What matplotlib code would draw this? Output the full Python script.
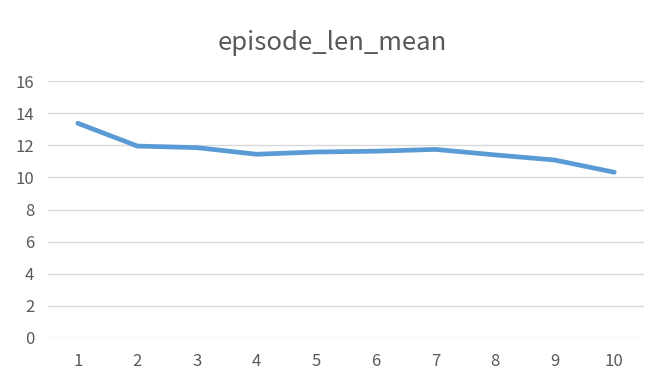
import numpy as np
import matplotlib.pyplot as plt

plt.rcParams['font.family'] = ['Noto Sans CJK SC', 'DejaVu Sans']

# Data
episodes = [1, 2, 3, 4, 5, 6, 7, 8, 9, 10]
episode_len_mean = [13.37, 11.95, 11.85, 11.44, 11.58, 11.63, 11.74, 11.40, 11.08, 10.32]
y_ticks = [0, 2, 4, 6, 8, 10, 12, 14, 16]

fig = plt.figure(figsize=(6.64, 3.81), dpi=100)
ax = fig.add_axes([48 / 664, 43 / 381, 596 / 664, 257 / 381])

ax.plot(episodes, episode_len_mean, color="#5B9BD5", linewidth=3.4, solid_capstyle="round")

ax.set_xlim(0.5, 10.5)
ax.set_ylim(0, 16)
ax.set_xticks(episodes)
ax.set_yticks(y_ticks)
ax.grid(axis="y", color="#D9D9D9", linewidth=1)
ax.set_axisbelow(True)
for s in ax.spines.values():
    s.set_visible(False)
ax.tick_params(axis="both", length=0, labelsize=12, labelcolor="#595959")
ax.tick_params(axis="y", pad=10)
ax.tick_params(axis="x", pad=11)

fig.text(0.5, 1 - 50 / 381, "episode_len_mean", ha="center", va="baseline",
         fontsize=18.5, color="#595959")

plt.savefig("out.png", dpi=100)
